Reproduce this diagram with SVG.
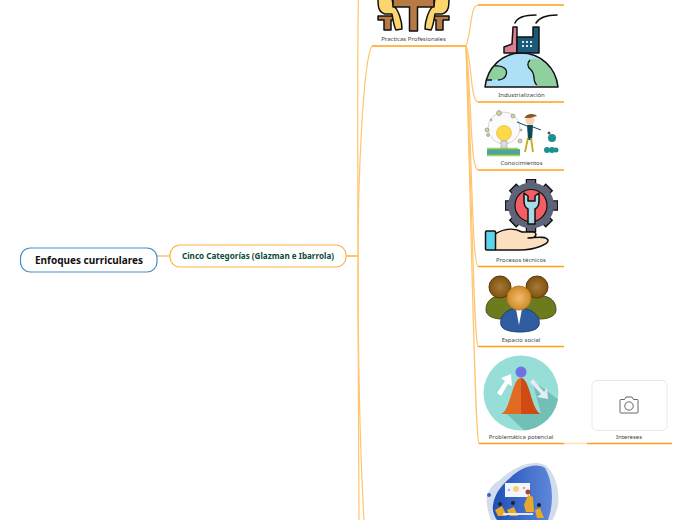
<svg xmlns="http://www.w3.org/2000/svg" width="697" height="520" viewBox="0 0 697 520">
<style>
text{font-family:"Noto Sans","Liberation Sans",sans-serif}
.lb{font-size:6px;fill:#444;text-anchor:middle}
.c{fill:none;stroke:#ffc46e;stroke-width:1.2}
.c2{fill:none;stroke:#ff9f1a;stroke-width:1.5}
.k{stroke:#111;stroke-width:1.500;stroke-linejoin:round;stroke-linecap:round}
.soft{filter:url(#soft)}
</style>
<defs>
<radialGradient id="hd"><stop offset="0" stop-color="#f2bd6c"/><stop offset="1" stop-color="#d08a28"/></radialGradient>
<radialGradient id="hb"><stop offset="0" stop-color="#a87a3a"/><stop offset="1" stop-color="#7f5210"/></radialGradient>
<linearGradient id="bl" x1="0" x2="1" y1="0" y2="0"><stop offset="0" stop-color="#1f4fb8"/><stop offset="1" stop-color="#5f87d8"/></linearGradient>
<clipPath id="disc"><circle cx="521" cy="393" r="37.500"/></clipPath>
<filter id="soft" x="-5%" y="-5%" width="110%" height="110%"><feGaussianBlur stdDeviation="0.350"/></filter>
</defs>
<rect width="697" height="520" fill="#fff"/>
<g id="connectors">
<path class="c2" d="M157 256H170" style="stroke:#ffb347;stroke-width:1.200"/>
<path class="c2" d="M346 256H358" style="stroke-width:1.200"/>
<path class="c" d="M358 256C358 170 357 60 358.500 -5"/>
<path class="c" d="M358 256C358 180 363 60 372 46"/>
<path class="c" d="M358 256C358 350 358 450 359 520"/>
<path class="c" d="M358 256C358 350 360 450 364 520"/>
<path class="c2" d="M372 46H466"/>
<path class="c" d="M466 46C472 30 470 6 478 5"/>
<path class="c2" d="M478 5H564"/>
<path class="c" d="M466 46C472 60 470 100 478 102"/>
<path class="c2" d="M478 102H564"/>
<path class="c" d="M466 46C472 100 470 168 478 170"/>
<path class="c2" d="M478 170H564"/>
<path class="c" d="M466 46C472 150 472 264 478 266.500"/>
<path class="c2" d="M478 266.500H564"/>
<path class="c" d="M466 46C472 200 474 344 478 346.500"/>
<path class="c2" d="M478 346.500H564"/>
<path class="c" d="M466 46C472 250 475 440 479 443.500"/>
<path class="c2" d="M479 443.500H564"/>
<path d="M564 443.500H587" fill="none" stroke="#ffe0b0" stroke-width="1.500"/>
<path class="c2" d="M587 443.500H672"/>
</g>
<g id="root">
<rect x="20.500" y="248" width="136.500" height="24" rx="10" fill="#fff" stroke="#3b8fd0" stroke-width="1.200"/>
<text x="89" y="264" font-size="10" font-weight="700" text-anchor="middle" fill="#111">Enfoques curriculares</text>
</g>
<g id="cinco">
<rect x="170" y="245" width="176" height="22" rx="10" fill="#fff" stroke="#ffb347" stroke-width="1.200"/>
<text x="258" y="259" font-size="8.100" font-weight="700" text-anchor="middle" fill="#0f4a3c">Cinco Categorías (Glazman e Ibarrola)</text>
</g>
<g id="practicas">
<path class="k" fill="#b57a45" d="M378 16H393V20H391V30H384V20H378Z"/>
<path class="k" fill="#b57a45" d="M449 16H434V20H436V30H443V20H449Z"/>
<path class="k" fill="#fdd56e" d="M378 -2C378 6 378 12 385 14L392 14C393 20 394 27 396 30L402 29C402 22 399 10 393 5L392 -2Z"/>
<path class="k" fill="#fdd56e" d="M449 -2C449 6 449 12 442 14L435 14C434 20 433 27 431 30L425 29C425 22 428 10 434 5L435 -2Z"/>
<path class="k" fill="#b57a45" d="M393 -2H434V7H417.500V31H409.500V7H393Z"/>
<text class="lb" x="413.500" y="41">Practicas Profesionales</text>
</g>
<g id="industrializacion">
<path fill="#ade0f7" d="M485 87C487 68 502 53 521 53C541 53 556 68 558 87Z"/>
<path fill="#8fd19e" d="M488 80C488 72 492 67 498 66C504 66 507 70 506 75C505 79 500 80 488 80Z"/>
<path fill="#8fd19e" d="M529 60C540 54 553 68 558 86H537C532 82 536 74 531 70C527 67 527 62 529 60Z"/>
<path d="M495 66C504 65 508 70 506 75C505 79 500 80 498 80M492 80H487" fill="none" stroke="#111" stroke-width="1.300"/>
<path d="M530 60C527 63 527 67 531 70C536 74 532 82 537 85" fill="none" stroke="#111" stroke-width="1.300"/>
<path class="k" fill="none" d="M485 87C487 68 502 53 521 53C541 53 556 68 558 87Z"/>
<path class="k" fill="#d9808c" d="M504 53V47L512 44L513 27H517V53Z"/>
<path class="k" fill="#1c5a7a" d="M517 53V37H533V27H539V53Z"/>
<path fill="#cfe8f5" d="M522 41h2v2h-2zM526 41h2v2h-2zM530 41h2v2h-2zM522 45h2v2h-2zM526 45h2v2h-2zM530 45h2v2h-2z"/>
<path class="k" fill="none" d="M515 23C517 18 525 15 536 15M536 23C539 18 547 15 557 15"/>
<text class="lb" x="521.500" y="96.500">Industrialización</text>
</g>
<g id="conocimientos">
<g class="soft">
<circle cx="504" cy="128" r="16" fill="#fafafa" stroke="#ccc" stroke-width="0.800"/>
<rect x="487" y="149" width="33" height="7" rx="1" fill="#4fa3a0"/>
<path d="M487 148.500H518M487 155.500H520" stroke="#a8d63c" stroke-width="1.300"/>
<circle cx="504" cy="133" r="7.500" fill="#fbd94a" stroke="#e6b52a" stroke-width="0.600"/>
<rect x="501" y="141" width="6" height="7" fill="#ddd" stroke="#888" stroke-width="0.500"/>
<g fill="#d8cfa8" stroke="#777" stroke-width="0.500"><circle cx="499" cy="113" r="2.500"/><circle cx="513" cy="116" r="2"/><circle cx="487" cy="130" r="2"/><circle cx="520" cy="141" r="2"/><circle cx="491" cy="120" r="1"/><circle cx="488" cy="135" r="1.500"/><circle cx="521" cy="130" r="1"/></g>
<circle cx="530" cy="120.500" r="4.500" fill="#f7d4b0"/>
<path d="M524.500 118C526 113 535 113 537 116L530 118Z" fill="#8a5a22"/>
<path d="M527 125H533L532 140H528Z" fill="#0f4a5c"/>
<path d="M528 138L525 152M531 138L533 152" stroke="#c8a820" stroke-width="1.800" fill="none"/>
<path d="M533 127L541 130M527 126L517 122" stroke="#0f4a5c" stroke-width="1" fill="none"/>
<circle cx="552" cy="138" r="4" fill="#1f8f8f"/>
<circle cx="549" cy="133" r="1.500" fill="#555"/>
<circle cx="547" cy="150" r="3" fill="#1f8f8f"/><circle cx="552" cy="150" r="3" fill="#1f8f8f"/><circle cx="556" cy="150" r="2.500" fill="#1f8f8f"/>
</g>
<text class="lb" x="521.500" y="165">Conocimientos</text>
</g>
<g id="procesos">
<g stroke="#111" stroke-width="10.500"><path d="M531 179V232M505 205.500H558M512.500 187L549.500 224M549.500 187L512.500 224"/></g>
<g stroke="#5d6478" stroke-width="8"><path d="M531 180V231M506 205.500H557M513.500 188L548.500 223M548.500 188L513.500 223"/></g>
<circle cx="531" cy="205.500" r="23" fill="#5d6478"/>
<circle cx="531" cy="205.500" r="16" fill="#f45d63" stroke="#111" stroke-width="1.200"/>
<path class="k" fill="#a5dce8" d="M524 193V201C524 205 526 208 528 209V224H535V209C537 208 539 205 539 201V193L535 196V201H528V196Z"/>
<path class="k" fill="#fde0bf" d="M495 234C505 228 515 228 522 232H533C537 232 537 237 532 238H528C535 238 545 235 548 240C549 244 535 250 520 250H495Z"/>
<rect class="k" x="485.500" y="231" width="10" height="19" rx="1" fill="#5cd4ea"/>
<text class="lb" x="521" y="262">Procesos técnicos</text>
</g>
<g id="espacio">
<path d="M486 310C486 301 492 296 501 296C512 296 518 301 518 310C518 316 510 319 502 319C494 319 486 316 486 310Z" fill="#6e7a1e" stroke="#46500f"/>
<path d="M556 310C556 301 550 296 541 296C530 296 524 301 524 310C524 316 532 319 540 319C548 319 556 316 556 310Z" fill="#6e7a1e" stroke="#46500f"/>
<circle cx="500" cy="287" r="11" fill="url(#hb)" stroke="#5c3a08"/>
<circle cx="537" cy="287" r="11" fill="url(#hb)" stroke="#5c3a08"/>
<path d="M501 325C499 316 507 308 519 308C532 308 541 316 539 325C538 330 529 332 520 332C511 332 502 330 501 325Z" fill="#2f5d9f" stroke="#1d3f75"/>
<path d="M516 309L519 325L522 309Z" fill="#fff"/>
<circle cx="519" cy="298" r="12" fill="url(#hd)" stroke="#b67a20"/>
<text class="lb" x="521" y="342">Espacio social</text>
</g>
<g id="problematica">
<circle cx="521" cy="393" r="37.500" fill="#97ddd8"/>
<path clip-path="url(#disc)" d="M541 414L507 414L534 440L570 440L570 408L532 380Z" fill="#72bfb6"/>
<path d="M501 414C511 410 512 378 521 378V414Z" fill="#e06a22"/>
<path d="M541 414C531 410 530 378 521 378V414Z" fill="#d04a13"/>
<circle cx="521" cy="372" r="5.500" fill="#6f72e0"/>
<path d="M497 393L505 381L501 378L511 374L512 386L508 384L501 396Z" fill="#fff"/>
<path d="M533 379L544 392L547 388L548 399L537 397L541 394L530 382Z" fill="#e8ebf5"/>
<text class="lb" x="521" y="439">Problemática potencial</text>
</g>
<g id="intereses">
<rect x="592" y="380.500" width="75" height="50" rx="5" fill="#fff" stroke="#e8e8e8"/>
<path d="M621 399.500H624.500L626 397H632L633.500 399.500H637.500Q638 399.500 638 400.500V412Q638 413 637 413H621Q620 413 620 412V400.500Q620 399.500 621 399.500Z" fill="none" stroke="#555" stroke-width="0.900"/>
<circle cx="629" cy="406" r="4.200" fill="none" stroke="#555" stroke-width="0.900"/>
<text class="lb" x="629" y="439">Intereses</text>
</g>
<g id="reunion">
<g class="soft">
<path d="M487 505C485 495 490 485 500 480C510 470 530 458 545 465C555 472 560 490 558 505C556 515 552 522 548 526H494C490 520 488 512 487 505Z" fill="#d3dcec"/>
<path d="M493 505C495 492 503 484 510 478C520 468 535 462 545 468C552 480 555 500 548 520H497C494 516 492 510 493 505Z" fill="url(#bl)"/>
<rect x="505" y="483" width="25" height="14" fill="#f2f5fc"/>
<circle cx="516" cy="489" r="3" fill="#f6d36c"/>
<circle cx="509" cy="490" r="1.300" fill="#9db8e8"/><circle cx="524" cy="488" r="1.300" fill="#f0a0a0"/>
<circle cx="489" cy="495" r="2" fill="#3565c8"/>
<g fill="#e8a82c"><path d="M524 505L528 495L533 497L534 512H526Z"/><path d="M495 510L502 506L507 516H498Z"/><path d="M507 510L514 507L518 516H510Z"/><path d="M535 510L540 508L544 518H537Z"/></g>
<g fill="#b04030"><circle cx="528" cy="492" r="2.500"/></g>
<g fill="#222"><circle cx="500" cy="504" r="2"/><circle cx="513" cy="503" r="2"/><circle cx="539" cy="505" r="2"/></g>
<rect x="503" y="513" width="30" height="2" fill="#dfe6f5"/>
</g>
</g>
</svg>
